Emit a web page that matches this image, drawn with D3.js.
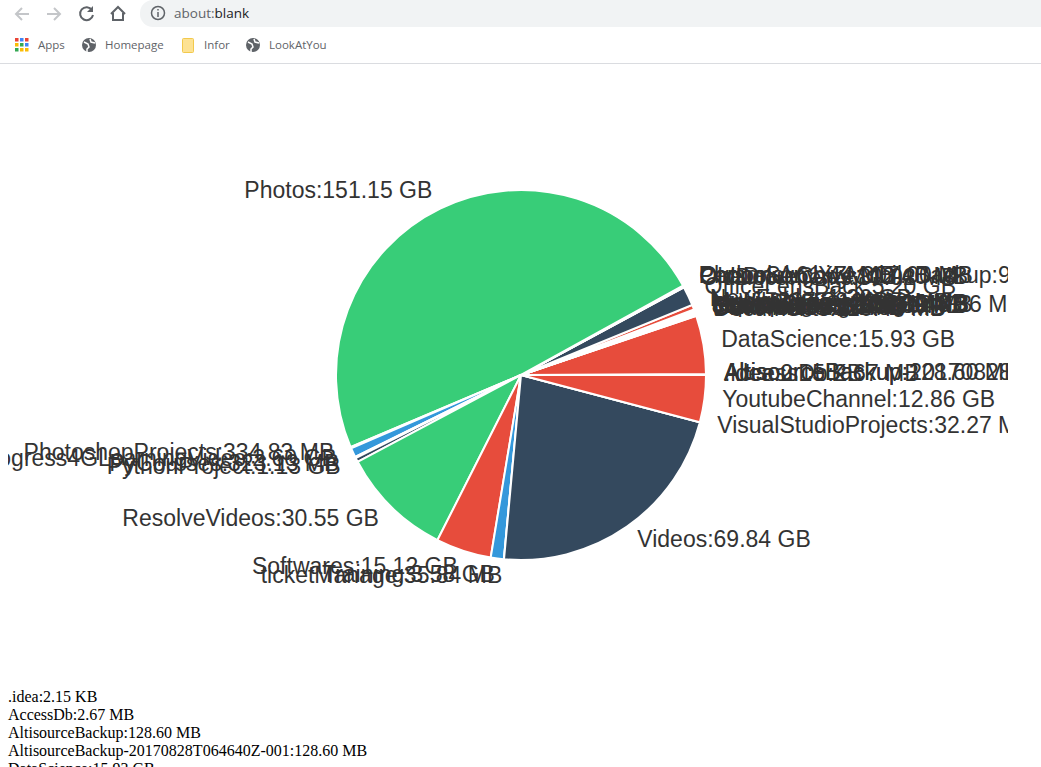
<!DOCTYPE html>
<html>
<head>
<meta charset="utf-8">
<script src="https://cdn.jsdelivr.net/npm/d3@7"></script>
<style>
html, body { margin: 0; padding: 0; background: #fff; overflow: hidden; width: 1041px; height: 767px; }
#toolbar { position: relative; height: 63px; border-bottom: 1px solid #dadce0; font-family: "Open Sans", sans-serif; }
#chart { position: absolute; left: 8px; top: 75px; }
#list { position: absolute; left: 8px; top: 688px; font-family: "Liberation Serif", serif; font-size: 16px; line-height: 18px; color: #000; white-space: nowrap; }
</style>
</head>
<body>
<svg id="toolbar" width="1041" height="63"></svg>
<svg id="chart" width="1000" height="600"></svg>
<div id="list"></div>
<script>
// folder names and sizes, sizes in GB
// the big slices are read from the picture. the overprinted labels can't be read,
// so those names and sizes (upper right cluster, left cluster, Training/ticketManage) are guesses
var names = [".idea", "AccessDb", "AltisourceBackup", "AltisourceBackup-20170828T064640Z-001",
  "DataScience", "Documents", "Downloads", "Drivers", "Ebooks", "Games", "HomeVideos", "JavaLearning",
  "KnowledgeSharing", "LaptopDrivers", "LearningFiles", "MediaBackup", "MobileApps", "Music", "NewFolder",
  "OfficeLensBack", "OldDocuments", "OneDriveCopy", "OutlookArchive", "Personal",
  "PhoneSonyXZMobileBackup", "Photos", "PhotoshopProjects", "Progress4GLearningVideo", "PyCourses",
  "PythonProject", "ResolveVideos", "Softwares", "Training", "ticketManage", "Videos",
  "VisualStudioProjects", "YoutubeChannel"];
var sizes = [0.000002, 0.0026, 0.1286, 0.1286, 15.93, 0.11, 0.12, 0.1, 0.14, 0.13, 0.15, 0.12, 0.14, 0.13, 0.16, 0.13, 0.12,
  0.3, 1.3, 5.2, 0.08, 0.1, 0.3, 0.06, 0.009, 151.15, 0.335, 2.6, 0.323, 1.13, 30.55, 15.12, 3.58, 0.035,
  69.84, 0.0323, 12.86];
var labels = ["2.15 KB", "2.67 MB", "128.60 MB", "128.60 MB", "15.93 GB", "110.40 MB", "122.88 MB", "102.40 MB",
  "143.36 MB", "133.12 MB", "153.60 MB", "122.88 MB", "143.36 MB", "133.12 MB", "163.84 MB", "133.12 MB", "122.88 MB",
  "307.20 MB", "1.30 GB", "5.20 GB", "81.92 MB", "102.40 MB", "307.00 MB", "61.44 MB", "9.21 MB",
  "151.15 GB", "334.83 MB", "2.60 GB", "323.13 MB", "1.13 GB", "30.55 GB", "15.12 GB", "3.58 GB", "35.84 MB",
  "69.84 GB", "32.27 MB", "12.86 GB"];
var palette = ["#38cd78", "#3498db", "#34495e", "#e74c3c"];
var colorIdx = [0, 1, 2, 3, 3, 0, 1, 2, 3, 0, 1, 2, 3, 0, 1, 2, 1, 0, 3, 2, 3, 1, 0, 2, 3, 0, 3, 1, 0, 2, 0, 3, 1, 0, 2, 3, 3];

var bookmarks = ["Apps", "Homepage", "Infor", "LookAtYou"];
var bookmarkX = [38, 105, 204, 269];

var radius = 185, labelRadius = 203;
var svg = d3.select("#chart");
var g = svg.append("g").attr("transform", "translate(513,300)");

var rows = names.map(function (n, i) { return { name: n, size: sizes[i], label: labels[i], c: colorIdx[i] }; });

// list order runs anticlockwise from 3 o'clock
var pie = d3.pie().value(function (d) { return d.size; }).sort(null)
  .startAngle(Math.PI / 2).endAngle(Math.PI / 2 - 2 * Math.PI);
var arcs = pie(rows);
var arc = d3.arc().innerRadius(0).outerRadius(radius);

g.selectAll("path").data(arcs).enter().append("path")
  .attr("d", arc)
  .attr("fill", function (d) { return palette[d.data.c]; })
  .attr("stroke", "#fff")
  .attr("stroke-width", 2);

g.selectAll("text").data(arcs).enter().append("text")
  .attr("transform", function (d) {
    var a = (d.startAngle + d.endAngle) / 2;
    return "translate(" + (labelRadius * Math.sin(a)) + "," + (-labelRadius * Math.cos(a)) + ")";
  })
  .attr("dy", "0.25em")
  .attr("text-anchor", function (d) {
    return Math.sin((d.startAngle + d.endAngle) / 2) > 0 ? "start" : "end";
  })
  .attr("font-family", "'Liberation Sans', Arial, sans-serif")
  .attr("font-size", 23)
  .attr("fill", "#333")
  .text(function (d) { return d.data.name + ":" + d.data.label; });

d3.select("#list").selectAll("div").data(rows).enter().append("div")
  .text(function (d) { return d.name + ":" + d.label; });

// browser bar above the page
var bar = d3.select("#toolbar");
bar.append("rect").attr("x", 140).attr("y", 0).attr("width", 930).attr("height", 27).attr("rx", 13).attr("fill", "#f1f3f4");
bar.append("path").attr("d", "M29 14H16M22 8l-6 6 6 6").attr("fill", "none").attr("stroke", "#c4c6c9").attr("stroke-width", 2);
bar.append("path").attr("d", "M47 14H60M54 8l6 6-6 6").attr("fill", "none").attr("stroke", "#c4c6c9").attr("stroke-width", 2);
bar.append("path").attr("d", "M92 10a6.5 6.5 0 1 0 1 5").attr("fill", "none").attr("stroke", "#5f6368").attr("stroke-width", 2);
bar.append("path").attr("d", "M93 6v6h-6z").attr("fill", "#5f6368");
bar.append("path").attr("d", "M111 14l7-7 7 7M113 13v7h10v-7").attr("fill", "none").attr("stroke", "#5f6368").attr("stroke-width", 2);
bar.append("circle").attr("cx", 158).attr("cy", 13).attr("r", 6.5).attr("fill", "none").attr("stroke", "#5f6368").attr("stroke-width", 1.5);
bar.append("path").attr("d", "M158 12v5M158 9v1.5").attr("stroke", "#5f6368").attr("stroke-width", 1.5);
var url = bar.append("text").attr("x", 174).attr("y", 18).attr("font-size", 13.5).attr("fill", "#5f6368");
url.append("tspan").text("about:");
url.append("tspan").attr("fill", "#202124").text("blank");

var dots = ["#ea4335", "#4285f4", "#ea4335", "#fbbc04", "#34a853", "#4285f4", "#34a853", "#fbbc04", "#fbbc04"];
bar.selectAll(".dot").data(dots).enter().append("rect").attr("class", "dot")
  .attr("x", function (d, i) { return 15 + (i % 3) * 5; })
  .attr("y", function (d, i) { return 38 + Math.floor(i / 3) * 5; })
  .attr("width", 3.5).attr("height", 3.5).attr("fill", function (d) { return d; });
[89, 253].forEach(function (cx) {
  bar.append("circle").attr("cx", cx).attr("cy", 45).attr("r", 7).attr("fill", "#5f6368");
  bar.append("path").attr("d", "M" + (cx - 5) + " 42l4 2 1 3-2 2v3M" + (cx + 1) + " 39l1 3 4 1").attr("fill", "none").attr("stroke", "#fff").attr("stroke-width", 1.5);
});
bar.append("rect").attr("x", 182.5).attr("y", 38.5).attr("width", 11).attr("height", 14).attr("rx", 1).attr("fill", "#fde293").attr("stroke", "#f2c94c");
bar.selectAll(".bm").data(bookmarks).enter().append("text").attr("class", "bm")
  .attr("x", function (d, i) { return bookmarkX[i]; }).attr("y", 49)
  .attr("font-size", 11.5).attr("fill", "#5f6368")
  .text(function (d) { return d; });
</script>
</body>
</html>
